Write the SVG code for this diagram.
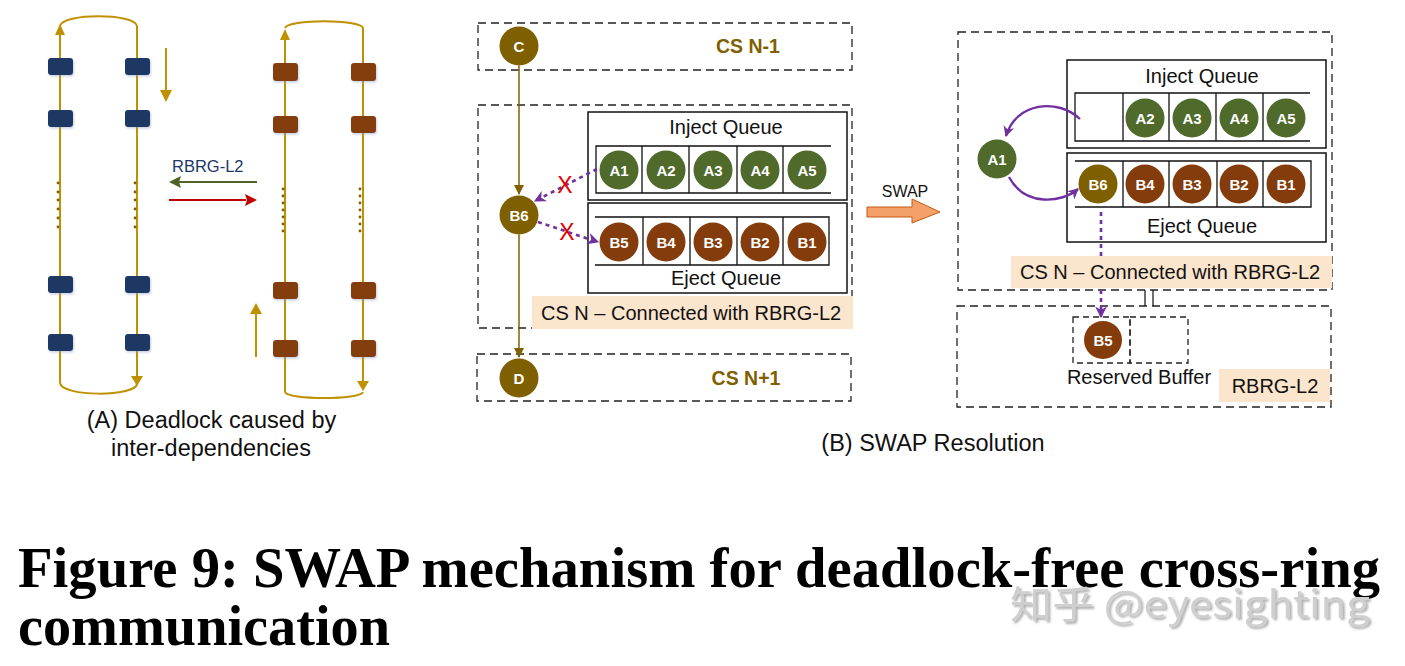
<svg xmlns="http://www.w3.org/2000/svg" width="1405" height="666" viewBox="0 0 1405 666">
<defs>
<style>
.ring{fill:none;stroke:#BF9000;stroke-width:2}
.gold{fill:#BF9000}
.sqb{fill:#1F3864}
.sqr{fill:#843C0C}
.dot{fill:#7F6000}
.dash{fill:none;stroke:#222;stroke-width:1.3;stroke-dasharray:8 5}
.qbox{fill:none;stroke:#111;stroke-width:1.5}
.qline{fill:none;stroke:#111;stroke-width:1.3}
.t{font-family:"Liberation Sans",Arial,sans-serif;fill:#111}
.cl{font-family:"Liberation Sans",Arial,sans-serif;font-weight:bold;font-size:15px;fill:#fff;text-anchor:middle}
.cg{fill:#4F6A2A}
.cb{fill:#843C0C}
.co{fill:#7F6000}
.peach{fill:#FCE5CD}
.pur{fill:none;stroke:#7030A0;stroke-width:2.6;stroke-dasharray:4 4}
.purs{fill:none;stroke:#7030A0;stroke-width:2.4}
.ol{fill:none;stroke:#7F6000;stroke-width:1.5}
.x{font-family:"Liberation Sans",Arial,sans-serif;font-size:23px;fill:#E00000;text-anchor:middle}
</style>
<marker id="ap" viewBox="0 0 10 10" refX="9" refY="5" markerWidth="4.5" markerHeight="4.5" orient="auto" markerUnits="strokeWidth"><path d="M0,0 L10,5 L0,10 L3,5 Z" fill="#7030A0"/></marker>
<marker id="ao" viewBox="0 0 10 10" refX="9" refY="5" markerWidth="7" markerHeight="7" orient="auto" markerUnits="strokeWidth"><path d="M0,0 L10,5 L0,10 Z" fill="#7F6000"/></marker>
<filter id="sh" x="-10%" y="-10%" width="130%" height="140%"><feDropShadow dx="1" dy="1.5" stdDeviation="1" flood-color="#8da0c8" flood-opacity="0.5"/></filter>
<filter id="wm" x="-5%" y="-20%" width="110%" height="150%"><feDropShadow dx="2" dy="2" stdDeviation="0.8" flood-color="#777" flood-opacity="0.6"/></filter>
</defs>
<rect width="1405" height="666" fill="#fff"/>

<!-- Panel A: left ring -->
<g id="ringA">
<path class="ring" d="M60,383 V30 M60,26 C62,13 135,13 137,26 V383 M60,383 C62,397 135,397 137,384"/>
<path class="gold" d="M60,24 L55,35 L65,35 Z"/>
<path class="gold" d="M137,386 L131,376 L143,376 Z"/>
<g filter="url(#sh)">
<rect class="sqb" x="48" y="58" width="25" height="17" rx="3"/>
<rect class="sqb" x="125" y="58" width="25" height="17" rx="3"/>
<rect class="sqb" x="48" y="110" width="25" height="17" rx="3"/>
<rect class="sqb" x="125" y="110" width="25" height="17" rx="3"/>
<rect class="sqb" x="48" y="276" width="25" height="17" rx="3"/>
<rect class="sqb" x="125" y="276" width="25" height="17" rx="3"/>
<rect class="sqb" x="48" y="334" width="25" height="17" rx="3"/>
<rect class="sqb" x="125" y="334" width="25" height="17" rx="3"/>
</g>
<g class="dot">
<circle cx="58" cy="183" r="1.4"/><circle cx="58" cy="192" r="1.4"/><circle cx="58" cy="200" r="1.4"/><circle cx="58" cy="209" r="1.4"/><circle cx="58" cy="218" r="1.4"/><circle cx="58" cy="227" r="1.4"/>
<circle cx="135" cy="183" r="1.4"/><circle cx="135" cy="192" r="1.4"/><circle cx="135" cy="200" r="1.4"/><circle cx="135" cy="209" r="1.4"/><circle cx="135" cy="218" r="1.4"/><circle cx="135" cy="227" r="1.4"/>
</g>
</g>

<!-- Panel A: right ring -->
<g id="ringB">
<path class="ring" d="M285,392 V34 M285,28 C287,19 361,19 363,28 V388 M285,392 C287,400 361,400 363,392"/>
<path class="gold" d="M285,29 L280,40 L290,40 Z"/>
<path class="gold" d="M363,391 L357,381 L369,381 Z"/>
<g filter="url(#sh)">
<rect class="sqr" x="273" y="63" width="25" height="18" rx="3"/>
<rect class="sqr" x="351" y="63" width="25" height="18" rx="3"/>
<rect class="sqr" x="273" y="116" width="25" height="17" rx="3"/>
<rect class="sqr" x="351" y="116" width="25" height="17" rx="3"/>
<rect class="sqr" x="273" y="282" width="25" height="17" rx="3"/>
<rect class="sqr" x="351" y="282" width="25" height="17" rx="3"/>
<rect class="sqr" x="273" y="340" width="25" height="17" rx="3"/>
<rect class="sqr" x="351" y="340" width="25" height="17" rx="3"/>
</g>
<g class="dot">
<circle cx="283" cy="189" r="1.4"/><circle cx="283" cy="196" r="1.4"/><circle cx="283" cy="203" r="1.4"/><circle cx="283" cy="210" r="1.4"/><circle cx="283" cy="217" r="1.4"/><circle cx="283" cy="224" r="1.4"/><circle cx="283" cy="231" r="1.4"/>
<circle cx="360" cy="189" r="1.4"/><circle cx="360" cy="196" r="1.4"/><circle cx="360" cy="203" r="1.4"/><circle cx="360" cy="210" r="1.4"/><circle cx="360" cy="217" r="1.4"/><circle cx="360" cy="224" r="1.4"/><circle cx="360" cy="231" r="1.4"/>
</g>
</g>

<!-- Panel A: direction and link arrows -->
<g id="arrowsA">
<path class="ring" d="M166,48 V92"/>
<path class="gold" d="M166,102 L160,90 L172,90 Z"/>
<path class="ring" d="M256,357 V312"/>
<path class="gold" d="M256,303 L250,314 L262,314 Z"/>
<text class="t" x="172" y="172" font-size="16.5" style="fill:#203864">RBRG-L2</text>
<path d="M257,182 H178" stroke="#4F6228" stroke-width="2.2" fill="none"/>
<path d="M169,182 L181,176 L179,182 L181,188 Z" fill="#4F6228"/>
<path d="M169,200 H246" stroke="#C00000" stroke-width="2.2" fill="none"/>
<path d="M257,200 L245,194 L247,200 L245,206 Z" fill="#C00000"/>
<text class="t" x="211.5" y="428" font-size="23.5" text-anchor="middle">(A) Deadlock caused by</text>
<text class="t" x="211" y="456" font-size="23.5" text-anchor="middle">inter-dependencies</text>
</g>

<!-- Panel B left: containers -->
<g id="csN1">
<rect class="dash" x="478" y="23" width="374" height="47"/>
<text x="748" y="53" font-family="Liberation Sans, Arial, sans-serif" font-weight="bold" font-size="19.5" fill="#7F6000" text-anchor="middle">CS N-1</text>
</g>
<g id="csN">
<rect class="dash" x="478" y="105" width="374" height="223"/>
<rect class="peach" x="532" y="296" width="321" height="33"/>
<text class="t" x="541" y="320" font-size="20">CS N – Connected with RBRG-L2</text>
</g>
<g id="csNp1">
<rect class="dash" x="477" y="354" width="374" height="47"/>
<text x="746" y="385" font-family="Liberation Sans, Arial, sans-serif" font-weight="bold" font-size="19.5" fill="#7F6000" text-anchor="middle">CS N+1</text>
</g>

<!-- Left inject queue -->
<g id="injectL">
<rect class="qbox" x="588" y="112" width="259" height="88"/>
<text class="t" x="726" y="134" font-size="20" text-anchor="middle">Inject Queue</text>
<path class="qline" d="M831,146 H596 V193 H831 M642,146 V193 M689,146 V193 M737,146 V193 M783,146 V193"/>
<circle class="cg" cx="619" cy="170" r="19.5"/><text class="cl" x="619" y="175.5">A1</text>
<circle class="cg" cx="666" cy="170" r="19.5"/><text class="cl" x="666" y="175.5">A2</text>
<circle class="cg" cx="713" cy="170" r="19.5"/><text class="cl" x="713" y="175.5">A3</text>
<circle class="cg" cx="760" cy="170" r="19.5"/><text class="cl" x="760" y="175.5">A4</text>
<circle class="cg" cx="807" cy="170" r="19.5"/><text class="cl" x="807" y="175.5">A5</text>
</g>

<!-- Left eject queue -->
<g id="ejectL">
<rect class="qbox" x="588" y="203" width="259" height="90"/>
<path class="qline" d="M595,217 H829 V265 H595 M643,217 V265 M690,217 V265 M737,217 V265 M783,217 V265"/>
<circle class="cb" cx="619" cy="242" r="19.5"/><text class="cl" x="619" y="247.5">B5</text>
<circle class="cb" cx="666" cy="242" r="19.5"/><text class="cl" x="666" y="247.5">B4</text>
<circle class="cb" cx="713" cy="242" r="19.5"/><text class="cl" x="713" y="247.5">B3</text>
<circle class="cb" cx="760" cy="242" r="19.5"/><text class="cl" x="760" y="247.5">B2</text>
<circle class="cb" cx="807" cy="242" r="19.5"/><text class="cl" x="807" y="247.5">B1</text>
<text class="t" x="726" y="285" font-size="20" text-anchor="middle">Eject Queue</text>
</g>

<g id="nodeC"><circle class="co" cx="519" cy="46" r="19.5"/><text class="cl" x="519" y="51.5">C</text></g>
<g id="nodeB6"><circle class="co" cx="519" cy="215" r="19.5"/><text class="cl" x="519" y="220.5">B6</text></g>
<g id="nodeD"><circle class="co" cx="519" cy="378" r="19.5"/><text class="cl" x="519" y="383.5">D</text></g>

<!-- SWAP arrow -->
<g id="swap">
<text class="t" x="905" y="197" font-size="16" text-anchor="middle">SWAP</text>
<path d="M867,207 H912 V199 L940,212 L912,223 V217 H867 Z" stroke="#C55A11" stroke-width="1" style="fill:#F3A06A"/>
</g>

<!-- Panel B right -->
<g id="csNright">
<rect class="dash" x="958" y="32" width="374" height="258"/>
<rect class="qbox" x="1067" y="60" width="259" height="88"/>
<text class="t" x="1202" y="83" font-size="20" text-anchor="middle">Inject Queue</text>
<path class="qline" d="M1310,93 H1075 V141 H1310 M1123,93 V141 M1169,93 V141 M1216,93 V141 M1263,93 V141"/>
<circle class="cg" cx="1145" cy="118" r="19.5"/><text class="cl" x="1145" y="123.5">A2</text>
<circle class="cg" cx="1192" cy="118" r="19.5"/><text class="cl" x="1192" y="123.5">A3</text>
<circle class="cg" cx="1239" cy="118" r="19.5"/><text class="cl" x="1239" y="123.5">A4</text>
<circle class="cg" cx="1286" cy="118" r="19.5"/><text class="cl" x="1286" y="123.5">A5</text>
<rect class="qbox" x="1067" y="153" width="259" height="89"/>
<path class="qline" d="M1075,161 H1311 V207 H1075 M1123,161 V207 M1169,161 V207 M1217,161 V207 M1263,161 V207"/>
<circle class="co" cx="1098" cy="184" r="19.5"/><text class="cl" x="1098" y="189.5">B6</text>
<circle class="cb" cx="1145" cy="184" r="19.5"/><text class="cl" x="1145" y="189.5">B4</text>
<circle class="cb" cx="1192" cy="184" r="19.5"/><text class="cl" x="1192" y="189.5">B3</text>
<circle class="cb" cx="1239" cy="184" r="19.5"/><text class="cl" x="1239" y="189.5">B2</text>
<circle class="cb" cx="1286" cy="184" r="19.5"/><text class="cl" x="1286" y="189.5">B1</text>
<text class="t" x="1202" y="233" font-size="20" text-anchor="middle">Eject Queue</text>
<circle class="cg" cx="997" cy="159" r="19.5"/><text class="cl" x="997" y="164.5">A1</text>
</g>

<g id="rbrg">
<rect class="dash" x="957" y="306" width="374" height="101"/>
<rect class="dash" x="1073" y="317" width="57" height="46" style="stroke-dasharray:6 4"/>
<rect class="dash" x="1130" y="317" width="58" height="46" style="stroke-dasharray:6 4"/>
<circle class="cb" cx="1103" cy="340" r="19"/><text class="cl" x="1103" y="345.5">B5</text>
<text class="t" x="1139" y="384" font-size="20" text-anchor="middle">Reserved Buffer</text>
<rect class="peach" x="1219" y="369" width="111" height="33"/>
<text class="t" x="1275" y="393" font-size="20" text-anchor="middle">RBRG-L2</text>
</g>

<!-- connectors -->
<g id="connectors">
<path class="ol" d="M519,65.5 V194" marker-end="url(#ao)"/>
<path class="ol" d="M519,234.5 V357" marker-end="url(#ao)"/>
<path class="pur" d="M597,169 L535,201" marker-end="url(#ap)"/>
<path class="pur" d="M538,222 L598,242" marker-end="url(#ap)"/>
<path class="purs" d="M1080,119 C1058,98 1016,102 1006,136" marker-end="url(#ap)"/>
<path class="purs" d="M1009,177 C1025,207 1062,203 1078,189" marker-end="url(#ap)"/>
<path class="pur" d="M1101,212 V256"/>
<path class="pur" d="M1101,290 V317" marker-end="url(#ap)"/>
<path d="M1145,290 V306 M1153,290 V306" stroke="#222" stroke-width="1.3" fill="none"/>
<rect class="peach" x="1011" y="256" width="321" height="32"/>
<text class="t" x="1020" y="279" font-size="20">CS N – Connected with RBRG-L2</text>
<text class="x" x="565" y="193">X</text>
<text class="x" x="567" y="240">X</text>
</g>

<text class="t" x="933" y="451" font-size="23.5" text-anchor="middle">(B) SWAP Resolution</text>

<g id="caption">
<text x="18" y="587" font-family="Liberation Serif, 'Times New Roman', serif" font-weight="bold" font-size="56" textLength="1362" lengthAdjust="spacingAndGlyphs">Figure 9: SWAP mechanism for deadlock-free cross-ring</text>
<text x="18" y="645" font-family="Liberation Serif, 'Times New Roman', serif" font-weight="bold" font-size="56" textLength="372" lengthAdjust="spacingAndGlyphs">communication</text>
</g>
<text x="1010" y="618" font-family="'Noto Sans CJK SC', 'Liberation Sans', sans-serif" font-size="38" fill="#cfcfcf" filter="url(#wm)" textLength="360" lengthAdjust="spacingAndGlyphs">知乎 @eyesighting</text>
</svg>
